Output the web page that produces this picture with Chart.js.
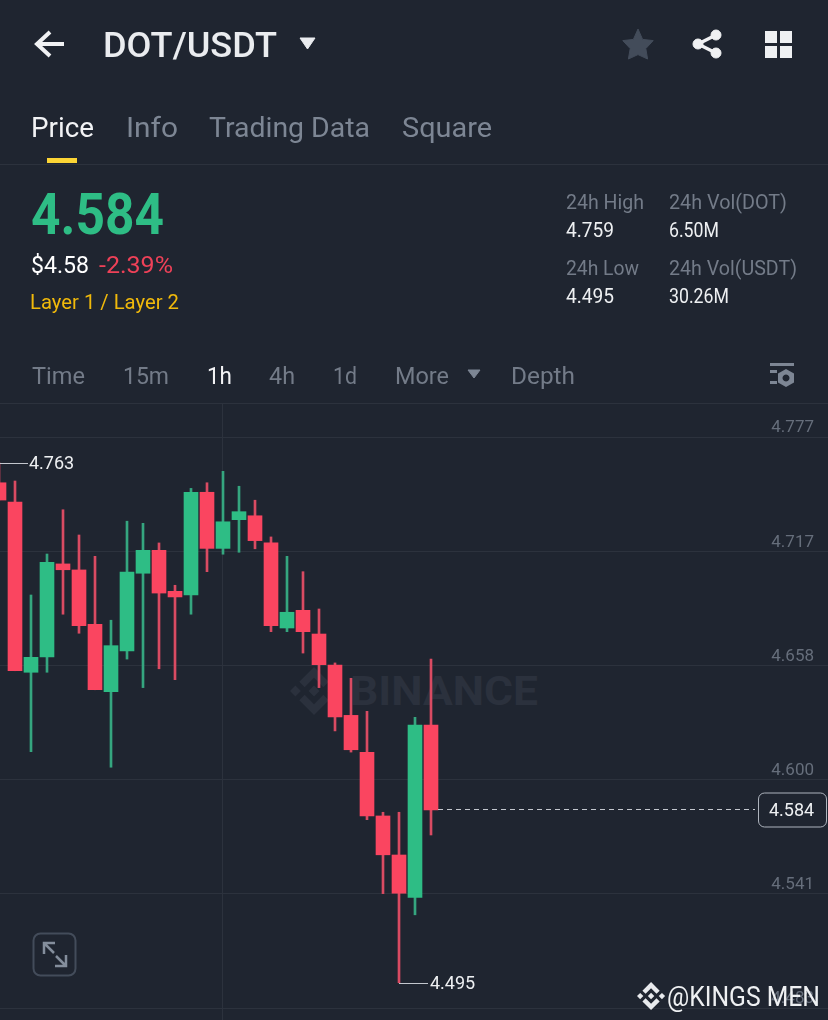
<!DOCTYPE html>
<html lang="en">
<head>
<meta charset="utf-8">
<title>DOT/USDT</title>
<script src="https://cdn.jsdelivr.net/npm/chart.js@4"></script>
<style>
html,body{margin:0;padding:0;background:#1f2530;width:828px;height:1020px;overflow:hidden}
#stage{position:relative;width:828px;height:1020px;overflow:hidden}
.t{position:absolute;white-space:nowrap;line-height:1;transform-origin:0 50%;font-family:Roboto,sans-serif}
svg{position:absolute;overflow:visible}
#c{position:absolute;left:0;top:404px;width:828px;height:616px;display:block}
.rule{position:absolute;left:0;width:828px;height:1px;background:#2c323d}
</style>
</head>
<body>
<div id="stage">
  <!-- watermark sits behind the transparent canvas -->
  <svg style="left:290px;top:667px" width="48" height="48" viewBox="0 0 126.61 126.61" fill="#2b313d"><use href="#bn"/></svg>
  <div class="t" id="wm" style="left:350px;top:672px;font-size:40px;font-weight:700;color:#2b313d">BINANCE</div>
  <canvas id="c" width="828" height="616"></canvas>

  <div class="rule" style="top:164px"></div>
  <div class="rule" style="top:403px"></div>
  <div style="position:absolute;left:47px;top:158px;width:30px;height:5px;background:#fcd535"></div>

  <svg style="left:0;top:0" width="828" height="1020">
    <defs>
      <g id="bn">
        <path d="M38.73 53.2l24.59-24.58 24.6 24.6 14.3-14.31L63.32 0 24.42 38.9z"/>
        <path d="M0 63.31l14.3-14.31 14.31 14.31-14.31 14.3z"/>
        <path d="M38.73 73.41l24.59 24.59 24.6-24.6 14.31 14.29-38.9 38.91-38.91-38.88z"/>
        <path d="M98 63.31l14.3-14.31 14.31 14.3-14.31 14.32z"/>
        <path d="M77.83 63.3L63.32 48.78 52.59 59.51l-1.24 1.23-2.54 2.54 14.51 14.5 14.51-14.47z"/>
      </g>
    </defs>
    <!-- back arrow -->
    <path d="M64 44H38M50 32L37 44l13 12" fill="none" stroke="#f0f1f3" stroke-width="4"/>
    <!-- title caret -->
    <path d="M300 38h15l-7.5 11z" fill="#eaecef" stroke="#eaecef" stroke-linejoin="round"/>
    <!-- star -->
    <path d="M638 29l4.6 10.4 10.6 1.2-7.4 8 1.8 10.4-9.6-4.4-9.6 4.4 1.8-10.4-7.4-8 10.6-1.2z" fill="#434c5a" stroke="#434c5a" stroke-linejoin="round"/>
    <!-- share -->
    <g fill="#f0f1f3" stroke="#f0f1f3">
      <circle cx="698" cy="44" r="5"/><circle cx="716" cy="35" r="5"/><circle cx="716" cy="53" r="5"/>
      <path d="M698 44l18-9M698 44l18 9" fill="none" stroke-width="3.5"/>
    </g>
    <!-- layout -->
    <g fill="#eef0f2">
      <rect x="765" y="31" width="12" height="12"/><rect x="780" y="31" width="12" height="12"/>
      <rect x="765" y="46" width="12" height="12"/><rect x="780" y="46" width="12" height="12"/>
    </g>
    <!-- More caret -->
    <path d="M468 370h12l-6 8z" fill="#7d8694" stroke="#7d8694" stroke-linejoin="round"/>
    <!-- settings -->
    <g fill="#7d8694">
      <rect x="770" y="363" width="24" height="3"/>
      <rect x="770" y="370" width="7" height="3"/>
      <rect x="770" y="381" width="7" height="3"/>
      <path d="M786 369l8 4.5v9l-8 4.5-8-4.5v-9zM786 374.5a3.5 3.5 0 1 0 .01 0z" fill-rule="evenodd"/>
    </g>
    <!-- expand button -->
    <rect x="33.5" y="933.5" width="42" height="42" rx="7" fill="none" stroke="#434c5a" stroke-width="2"/>
    <g fill="none" stroke="#848e9c" stroke-width="2.5">
      <path d="M44 954v-11h11M44 943l10 10"/>
      <path d="M66 955v11H55M66 966l-10-10"/>
    </g>
    <!-- credit logo -->
    <use href="#bn" transform="translate(637 982) scale(0.222)" fill="#e8eaed"/>
  </svg>
  <div id="texts"></div>
</div>

<script>
// Candles, oldest first
const categories = [0,1,2,3,4,5,6,7,8,9,10,11,12,13,14,15,16,17,18,19,20,21,22,23,24,25,26,27];
const opens  = [4.7535,4.7436,4.6559,4.6638,4.7117,4.7086,4.6806,4.6459,4.6669,4.7069,4.7187,4.6976,4.6957,4.7486,4.7197,4.7345,4.7365,4.7225,4.6787,4.6878,4.6756,4.6596,4.6337,4.6147,4.5819,4.5618,4.5400,4.6287];
const closes = [4.7446,4.6567,4.6636,4.7125,4.7087,4.6799,4.6469,4.6696,4.7075,4.7187,4.6967,4.6947,4.7486,4.7197,4.7334,4.7386,4.7237,4.6799,4.6868,4.6768,4.6598,4.6329,4.6160,4.5819,4.5619,4.5421,4.6287,4.5850];
const highs  = [4.7637,4.7544,4.6957,4.7168,4.7396,4.7266,4.7156,4.6827,4.7337,4.7326,4.7225,4.7007,4.7506,4.7535,4.7594,4.7517,4.7445,4.7256,4.7156,4.7077,4.6885,4.6607,4.6528,4.6358,4.5838,4.5838,4.6327,4.6627];
const lows   = [4.7446,4.6567,4.6150,4.6559,4.6858,4.6760,4.6469,4.6070,4.6627,4.6480,4.6577,4.6521,4.6858,4.7077,4.7167,4.7177,4.7195,4.6768,4.6768,4.6658,4.6480,4.6257,4.6148,4.5800,4.5419,4.4960,4.5310,4.5721];

const tickValues = [4.777,4.7182,4.6594,4.6006,4.5418,4.483];
const tickLabels = ['4.777','4.717','4.658','4.600','4.541','4.483'];
const crosshairIndex = [14];
const highMark = {index:0, value:4.7637, label:'4.763'};
const lowMark  = {index:25, value:4.496, label:'4.495'};
const lastMark = {index:27, label:'4.584'};

const UP = '#2ebd85', DOWN = '#fa4560', UPW = '#35a67f', DOWNW = '#d94b62';
const GRID = '#2c323d';
const isUp = i => closes[i] >= opens[i];

// Page text: [text, left, width, centre y, size, colour, weight]
const GREY = '#7d8694', WHITE = '#eef0f2', DIM = '#737b88';
const pageText = [
 ['DOT/USDT',103,174,45,35,'#eaecef',500],
 ['Price',31,63,128,28,'#f2f3f5',400],
 ['Info',126,52,128,28,GREY,400],
 ['Trading Data',209,161,128,28,GREY,400],
 ['Square',402,90,128,28,GREY,400],
 ['4.584',31,133,214,58,UP,700],
 ['$4.58',31,58,265,24,'#ffffff',400],
 ['-2.39%',99,74,265,24,'#ee4158',400],
 ['Layer 1 / Layer 2',30,149,302,21,'#f0b90b',400],
 ['24h High',566,78,202,21,DIM,400],
 ['24h Vol(DOT)',669,118,202,21,DIM,400],
 ['4.759',566,48,230,20,WHITE,400],
 ['6.50M',669,50,230,20,WHITE,400],
 ['24h Low',566,73,268,21,DIM,400],
 ['24h Vol(USDT)',669,128,268,21,DIM,400],
 ['4.495',566,48,296,20,WHITE,400],
 ['30.26M',669,60,296,20,WHITE,400],
 ['Time',32,53,376,24,DIM,400],
 ['15m',123,46,376,24,DIM,400],
 ['1h',207,25,376,24,'#f2f3f5',400],
 ['4h',269,26,376,24,DIM,400],
 ['1d',333,24,376,24,DIM,400],
 ['More',395,54,376,24,DIM,400],
 ['Depth',511,64,376,24,DIM,400],
 ['@KINGS MEN',667,153,997,27,'#eef0f2',400]
];
const box = document.getElementById('texts');
pageText.forEach(([s,x,w,cy,size,col,wt])=>{
  const e = document.createElement('div');
  e.className='t'; e.textContent=s;
  e.style.cssText=`left:${x}px;top:${cy-size/2}px;font-size:${size}px;color:${col};font-weight:${wt}`;
  box.appendChild(e);
  e.style.transform=`scaleX(${w/e.getBoundingClientRect().width})`;
});
const wm=document.getElementById('wm');
wm.style.transform=`scaleX(${188/wm.getBoundingClientRect().width})`;

const marks = {
  id:'marks',
  afterDatasetsDraw(chart){
    const {ctx,scales:{x,y}} = chart;
    ctx.save();
    ctx.font='18px Roboto, sans-serif';
    ctx.textBaseline='middle';
    ctx.textAlign='left';
    // extreme markers
    ctx.strokeStyle='#c3c7ce'; ctx.lineWidth=1; ctx.fillStyle='#eef0f2';
    [[highMark,28,29],[lowMark,428,430]].forEach(([m,end,tx])=>{
      const py=Math.round(y.getPixelForValue(m.value))+.5;
      ctx.beginPath(); ctx.moveTo(x.getPixelForValue(m.index),py); ctx.lineTo(end,py); ctx.stroke();
      ctx.fillText(m.label,tx,py+1);
    });
    // last price line + box
    const ly=Math.round(y.getPixelForValue(closes[lastMark.index]))-.5;
    ctx.strokeStyle='#c3c7ce';
    ctx.setLineDash([5,4]);
    ctx.beginPath(); ctx.moveTo(x.getPixelForValue(lastMark.index)+7,ly); ctx.lineTo(755,ly); ctx.stroke();
    ctx.setLineDash([]);
    ctx.fillStyle='#1f2530';
    ctx.strokeStyle='#aeb4bd';
    ctx.beginPath(); ctx.roundRect(758.5,ly-16.5,68,34,6); ctx.fill(); ctx.stroke();
    ctx.fillStyle='#eef0f2';
    ctx.fillText(lastMark.label,769,ly+2);
    ctx.restore();
  }
};

new Chart(document.getElementById('c'),{
  type:'bar',
  data:{datasets:[
    {label:'wick',order:2,barThickness:2,grouped:false,
     data:categories.map(i=>({x:i,y:[lows[i],highs[i]]})),
     backgroundColor:categories.map(i=>isUp(i)?UPW:DOWNW),borderWidth:0},
    {label:'body',order:1,barThickness:14,grouped:false,
     data:categories.map(i=>({x:i,y:[opens[i],closes[i]]})),
     backgroundColor:categories.map(i=>isUp(i)?UP:DOWN),borderWidth:0}
  ]},
  plugins:[marks],
  options:{
    responsive:false,animation:false,devicePixelRatio:1,
    layout:{padding:0},
    plugins:{legend:{display:false},tooltip:{enabled:false},title:{display:false}},
    scales:{
      x:{type:'linear',position:'bottom',min:0.0625,max:51.8125,offset:false,
         grid:{color:GRID,offset:false,drawTicks:false,lineWidth:1},border:{display:false},
         ticks:{display:false},
         afterBuildTicks(s){s.ticks=crosshairIndex.map(v=>({value:v}));},
         afterFit(s){s.height=0;s.paddingLeft=0;s.paddingRight=0;s.paddingTop=0;s.paddingBottom=0;}},
      y:{type:'linear',position:'right',min:4.47682,max:4.79406,
         grid:{color:GRID,drawTicks:false,lineWidth:1},border:{display:false},
         ticks:{mirror:true,padding:-14,labelOffset:-9,color:'#666e7b',font:{family:'Roboto, sans-serif',size:17},
                callback:(v,i)=>tickLabels[i]},
         afterBuildTicks(s){s.ticks=tickValues.map(v=>({value:v}));},
         afterFit(s){s.width=0;s.paddingTop=0;s.paddingBottom=0;s.paddingLeft=0;s.paddingRight=0;}}
    }
  }
});
</script>
</body>
</html>
